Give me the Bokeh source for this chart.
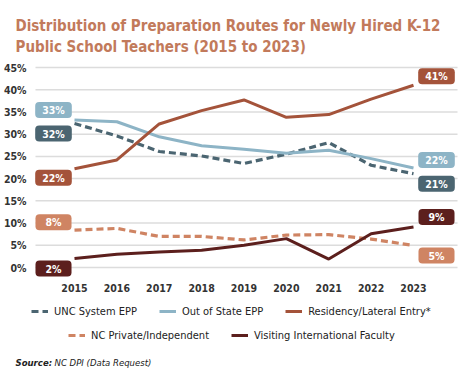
from bokeh.plotting import figure
from bokeh.models import (Label, Legend, LegendItem, FixedTicker,
                          PrintfTickFormatter, Range1d)
from bokeh.embed import file_html
from bokeh.resources import INLINE

years = [2015, 2016, 2017, 2018, 2019, 2020, 2021, 2022, 2023]
unc_system = [32.4, 29.6, 26.1, 25.1, 23.4, 25.5, 28.1, 23.0, 21.1]
out_of_state = [33.2, 32.8, 29.4, 27.4, 26.6, 25.7, 26.4, 24.5, 22.4]
residency = [22.2, 24.2, 32.3, 35.3, 37.7, 33.8, 34.4, 37.9, 41.0]
nc_private = [8.4, 8.8, 7.0, 7.0, 6.2, 7.3, 7.4, 6.4, 4.95]
visiting = [2.0, 3.0, 3.5, 3.9, 5.0, 6.5, 1.9, 7.6, 9.1]
y_ticks = [0, 5, 10, 15, 20, 25, 30, 35, 40, 45]

title_lines = ["Distribution of Preparation Routes for Newly Hired K-12",
               "Public School Teachers (2015 to 2023)"]

W, H = 474, 376
# pixel layout of the plotting area
PX_X0, PX_X1 = 74, 413      # x pixel of first / last year
PX_Y0, PX_Y45 = 267, 67     # y pixel of 0% / 45%
GRID_L, GRID_R = 35, 457
AXIS_BOTTOM = 274

FONT = "DejaVu Sans Condensed"
TITLE_C = "#c27a5b"

kx = (PX_X1 - PX_X0) / (years[-1] - years[0])
ky = (PX_Y0 - PX_Y45) / 45.0
def dx(px):
    return years[0] + (px - PX_X0) / kx
def dy(py):
    return (PX_Y0 - py) / ky

# name, values, colour, dash, width, end-label offsets (left, right) in px
series = [
    ("UNC System EPP", unc_system, "#4b6571", "7 4", 3.2, -10, -10),
    ("Out of State EPP", out_of_state, "#8db4c6", "solid", 3, 10, 8),
    ("Residency/Lateral Entry*", residency, "#a4533a", "solid", 3, -9, 9),
    ("NC Private/Independent", nc_private, "#cf8463", "7 4", 3.2, 8, -10),
    ("Visiting International Faculty", visiting, "#5c1f1d", "solid", 3, -10, 10),
]

p = figure(width=W, height=H, x_range=Range1d(dx(0), dx(W)),
           y_range=Range1d(dy(H), dy(0)), output_backend="svg",
           toolbar_location=None, min_border=0)
p.outline_line_color = None
p.background_fill_color = "white"

# horizontal grid lines
p.segment(x0=[dx(GRID_L)] * len(y_ticks), x1=[dx(GRID_R)] * len(y_ticks),
          y0=y_ticks, y1=y_ticks, line_color="#dcdcdc", line_width=1.5)

renderers = {}
for name, vals, col, dash, lw, yo_l, yo_r in series:
    r = p.line(years, vals, line_color=col, line_width=lw, line_dash=dash)
    renderers[name] = r
    for x, v, xo, yo in ((years[0], vals[0], -21, yo_l), (years[-1], vals[-1], 23, yo_r)):
        txt = f"{round(v)}%"
        pad = 7 if len(txt) == 3 else 10
        p.add_layout(Label(x=x, y=v, x_offset=xo, y_offset=yo, text=txt,
                           text_align="center", text_baseline="middle",
                           text_color="white", text_font=FONT,
                           text_font_style="bold", text_font_size="10.5px",
                           background_fill_color=col, border_radius=4,
                           padding=dict(top=2, right=pad, bottom=2, left=pad)))

p.xaxis.ticker = FixedTicker(ticks=years)
p.yaxis.ticker = FixedTicker(ticks=y_ticks)
p.yaxis.formatter = PrintfTickFormatter(format="%d%%")
p.xaxis.fixed_location = dy(AXIS_BOTTOM)
p.yaxis.fixed_location = dx(GRID_L)
for ax in (p.xaxis, p.yaxis):
    ax.axis_line_color = None
    ax.major_tick_line_color = None
    ax.minor_tick_line_color = None
    ax.major_label_text_font = FONT
    ax.major_label_text_font_style = "bold"
    ax.major_label_text_font_size = "10.5px"
    ax.major_label_text_color = "#333333"
    ax.major_label_standoff = 3
p.xgrid.grid_line_color = None
p.ygrid.grid_line_color = None

leg_style = dict(orientation="horizontal",
                 label_text_font=FONT, label_text_font_size="11px",
                 label_text_color="#222222", glyph_width=17, glyph_height=16,
                 label_height=16, label_standoff=6, spacing=22, padding=4,
                 margin=0, border_line_color=None, background_fill_alpha=0)
names = [s[0] for s in series]
leg1 = Legend(items=[LegendItem(label=n, renderers=[renderers[n]]) for n in names[:3]],
              location=(31, H - 319), **leg_style)
leg2 = Legend(items=[LegendItem(label=n, renderers=[renderers[n]]) for n in names[3:]],
              location=(68, H - 343), **leg_style)
p.add_layout(leg1)
p.add_layout(leg2)

for line, yb in zip(title_lines, (25, 46)):
    p.add_layout(Label(x=15, y=H - yb, x_units="screen", y_units="screen",
                       text=line, text_font=FONT, text_font_style="bold",
                       text_font_size="15px", text_color=TITLE_C,
                       text_baseline="alphabetic"))

p.add_layout(Label(x=15, y=H - 362, x_units="screen", y_units="screen",
                   text="Source:", text_font=FONT, text_font_style="bold italic",
                   text_font_size="9.5px", text_color="#222222",
                   text_baseline="alphabetic"))
p.add_layout(Label(x=54, y=H - 362, x_units="screen", y_units="screen",
                   text="NC DPI (Data Request)", text_font=FONT,
                   text_font_style="italic", text_font_size="9.5px",
                   text_color="#222222", text_baseline="alphabetic"))

open("out.html", "w").write(file_html(p, INLINE))
